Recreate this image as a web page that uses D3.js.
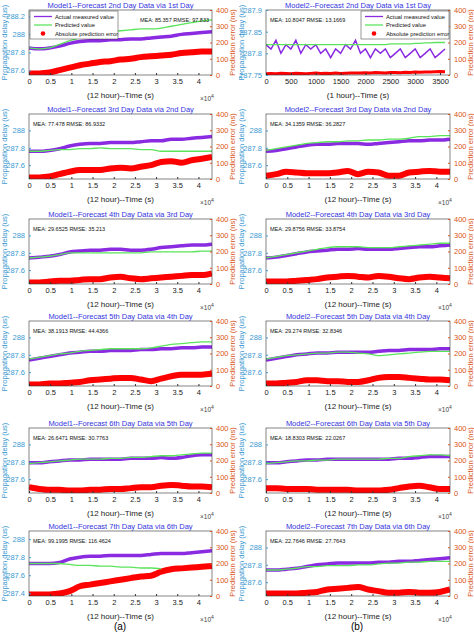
<!DOCTYPE html>
<html><head><meta charset="utf-8">
<script src="https://cdn.jsdelivr.net/npm/d3@7"></script>
<style>body{margin:0;background:#fff}text{font-family:Arial,"Liberation Sans",sans-serif}</style>
</head><body><svg id="c" width="474" height="635"></svg>
<script>
const t12 = [0,2400,4800,7200,9600,12000,14400,16800,19200,21600,24000,26400,28800,31200,33600,36000,38400,40800,43200];
const t1 = d3.range(0,3700,100);
const titles = [
 "Model1--Forecast 2nd Day Data via 1st Day","Model2--Forecast 2nd Day Data via 1st Day",
 "Model1--Forecast 3rd Day Data via 2nd Day","Model2--Forecast 3rd Day Data via 2nd Day",
 "Model1--Forecast 4th Day Data via 3rd Day","Model2--Forecast 4th Day Data via 3rd Day",
 "Model1--Forecast 5th Day Data via 4th Day","Model2--Forecast 5th Day Data via 4th Day",
 "Model1--Forecast 6th Day Data via 5th Day","Model2--Forecast 6th Day Data via 5th Day",
 "Model1--Forecast 7th Day Data via 6th Day","Model2--Forecast 7th Day Data via 6th Day"];
const metrics = ["MEA: 85.357  RMSE: 97.833","MEA: 10.8047  RMSE: 13.1669",
 "MEA: 77.478  RMSE: 86.9332","MEA: 34.1359  RMSE: 36.2827",
 "MEA: 29.6525  RMSE: 35.213","MEA: 29.8756  RMSE: 33.8754",
 "MEA: 38.1913  RMSE: 44.4366","MEA: 29.274  RMSE: 32.8346",
 "MEA: 26.6471  RMSE: 30.7763","MEA: 18.8303  RMSE: 22.0267",
 "MEA: 99.1995  RMSE: 116.4624","MEA: 22.7646  RMSE: 27.7643"];
const actual = [
 [287.85,287.84,287.85,287.87,287.9,287.92,287.93,287.93,287.94,287.94,287.95,287.95,287.96,287.97,287.98,288.0,288.01,288.02,288.03],
 [287.82,287.81,287.83,287.80,287.82,287.81,287.83,287.80,287.82,287.81,287.82,287.80,287.81,287.79,287.81,287.80,287.82,287.81,287.83,287.80,287.81,287.79,287.81,287.80,287.81,287.79,287.80,287.81,287.79,287.80,287.81,287.79,287.80,287.81,287.79,287.80,287.81],
 [287.76,287.76,287.77,287.79,287.82,287.84,287.85,287.85,287.86,287.86,287.86,287.87,287.88,287.88,287.90,287.90,287.91,287.92,287.93],
 [287.76,287.77,287.79,287.81,287.83,287.84,287.84,287.85,287.85,287.85,287.84,287.85,287.86,287.87,287.88,287.88,287.89,287.89,287.90],
 [287.74,287.75,287.76,287.78,287.81,287.82,287.83,287.83,287.84,287.84,287.83,287.83,287.84,287.86,287.87,287.88,287.89,287.89,287.90],
 [287.74,287.75,287.77,287.79,287.81,287.82,287.83,287.84,287.84,287.85,287.84,287.84,287.84,287.85,287.86,287.87,287.87,287.88,287.89],
 [287.74,287.76,287.78,287.80,287.82,287.83,287.84,287.84,287.85,287.85,287.85,287.86,287.86,287.87,287.87,287.88,287.88,287.89,287.89],
 [287.74,287.76,287.78,287.80,287.81,287.82,287.82,287.83,287.83,287.83,287.83,287.84,287.85,287.85,287.86,287.86,287.86,287.87,287.87],
 [287.79,287.79,287.80,287.81,287.82,287.82,287.83,287.83,287.83,287.83,287.84,287.84,287.84,287.85,287.84,287.85,287.87,287.88,287.88],
 [287.79,287.79,287.80,287.81,287.82,287.82,287.83,287.83,287.83,287.83,287.83,287.83,287.83,287.84,287.84,287.85,287.86,287.86,287.86],
 [287.73,287.73,287.73,287.74,287.78,287.80,287.81,287.81,287.82,287.82,287.82,287.82,287.83,287.84,287.84,287.84,287.85,287.86,287.87],
 [287.74,287.74,287.75,287.76,287.78,287.80,287.81,287.82,287.82,287.82,287.82,287.83,287.83,287.84,287.84,287.85,287.86,287.87,287.88]];
const predicted = [
 [287.85,287.84,287.85,287.89,287.93,287.96,287.99,288.01,288.03,288.04,288.05,288.06,288.06,288.07,288.09,288.11,288.13,288.15,288.16],
 [287.82,287.82,287.82,287.82,287.82,287.82,287.82,287.82,287.82,287.82,287.82,287.82,287.82,287.82,287.82,287.82,287.82,287.82,287.82,287.82,287.82,287.82,287.82,287.82,287.82,287.822,287.822,287.822,287.822,287.822,287.823,287.823,287.824,287.824,287.825,287.825,287.825],
 [287.76,287.76,287.77,287.78,287.78,287.79,287.79,287.80,287.79,287.79,287.79,287.78,287.78,287.76,287.76,287.76,287.76,287.76,287.76],
 [287.77,287.79,287.81,287.83,287.85,287.86,287.87,287.87,287.88,287.88,287.89,287.89,287.90,287.90,287.91,287.93,287.93,287.94,287.94],
 [287.74,287.75,287.76,287.78,287.80,287.80,287.80,287.80,287.80,287.80,287.80,287.80,287.81,287.81,287.81,287.81,287.81,287.82,287.82],
 [287.74,287.76,287.78,287.80,287.82,287.84,287.86,287.87,287.87,287.87,287.86,287.86,287.86,287.87,287.88,287.89,287.90,287.91,287.91],
 [287.75,287.77,287.79,287.81,287.82,287.84,287.85,287.86,287.87,287.87,287.87,287.87,287.88,287.90,287.92,287.93,287.94,287.95,287.95],
 [287.75,287.77,287.79,287.80,287.81,287.82,287.82,287.83,287.83,287.82,287.81,287.79,287.80,287.81,287.82,287.83,287.84,287.84,287.84],
 [287.78,287.79,287.80,287.81,287.82,287.83,287.83,287.83,287.84,287.84,287.85,287.85,287.86,287.87,287.87,287.88,287.89,287.90,287.90],
 [287.78,287.79,287.80,287.81,287.81,287.82,287.82,287.83,287.83,287.83,287.83,287.83,287.84,287.84,287.86,287.87,287.88,287.88,287.87],
 [287.73,287.73,287.73,287.73,287.72,287.71,287.71,287.70,287.70,287.69,287.69,287.68,287.68,287.67,null,null,null,null,null],
 [287.74,287.74,287.75,287.76,287.78,287.78,287.79,287.79,287.79,287.80,287.80,287.81,287.82,287.82,287.83,287.83,287.84,287.84,287.84]];
const errors = [
 [10,10,15,30,45,60,70,80,85,95,100,110,115,120,125,135,140,145,145],
 [8,9,8,10,9,8,10,9,8,10,12,10,11,9,12,10,11,12,13,12,14,13,15,14,13,15,16,14,17,16,18,17,19,18,20,21,20],
 [10,10,15,30,45,55,55,55,65,70,65,75,85,105,110,100,115,125,135],
 [20,30,45,40,35,35,35,40,50,30,45,40,20,20,40,45,50,45,45],
 [10,10,15,20,20,25,30,30,40,45,35,30,35,40,45,50,55,55,65],
 [15,15,15,20,25,30,40,45,50,45,40,50,45,35,30,40,45,40,35],
 [10,10,15,15,20,25,35,40,45,50,50,40,30,45,60,70,70,70,75],
 [15,15,20,25,35,35,30,30,25,25,35,50,55,55,50,45,40,40,35],
 [35,25,20,20,15,15,20,20,25,25,30,35,35,45,50,45,40,40,35],
 [30,30,25,25,25,20,20,20,20,15,15,15,20,30,40,45,35,25,25],
 [10,10,10,15,30,60,70,80,90,100,110,120,125,150,165,170,175,180,185],
 [15,15,15,15,20,25,40,45,50,55,40,30,20,20,25,20,20,25,40]];
const yDomains = [[287.55,288.27],[287.75,287.9],[287.44,288.19],[287.44,288.19],[287.44,288.19],[287.44,288.19],
 [287.44,288.19],[287.44,288.19],[287.44,288.19],[287.44,288.19],[287.37,288.09],[287.44,288.19]];
const yTicks = [[287.6,287.8,288,288.2],[287.75,287.8,287.85,287.9]];
const yTicksDefault = [287.6,287.8,288];
const yTicksLast = [287.4,287.6,287.8,288];
const errTicks = [0,100,200,300,400];
const xTicks12 = [0,5000,10000,15000,20000,25000,30000,35000,40000];
const xTicks1 = [0,500,1000,1500,2000,2500,3000,3500];
const legendLabels = ["Actual measured value","Predicted value","Absolute prediction error"];

const svg = d3.select("#c");
const tops = [10,114,219,321,428,531], H = 65;
const cols = [[29,212],[266,450]];
const cBlue="#3d9ad1", cOr="#d95319", cPur="#8a2be2", cGr="#5be35b", cRed="#ff0000", cTitle="#3434e0";

for (let i=0;i<12;i++){
  const r=Math.floor(i/2), c=i%2;
  const hourly = (i===1);
  const tt = hourly? t1 : t12;
  const x = d3.scaleLinear().domain(hourly?[0,3700]:[0,43200]).range(cols[c]);
  const y = d3.scaleLinear().domain(yDomains[i]).range([tops[r]+H,tops[r]]);
  const ye = d3.scaleLinear().domain([0,400]).range([tops[r]+H,tops[r]]);
  const g = svg.append("g");
  const clipId="cl"+i;
  g.append("clipPath").attr("id",clipId).append("rect").attr("x",cols[c][0]).attr("y",tops[r]).attr("width",cols[c][1]-cols[c][0]).attr("height",H);
  const pg=g.append("g").attr("clip-path",`url(#${clipId})`);
  const cv = hourly? d3.curveLinear : d3.curveMonotoneX;
  const le = d3.line().x((d,k)=>x(tt[k])).y(d=>ye(d)).curve(cv);
  const ly = d3.line().defined(d=>d!=null).x((d,k)=>x(tt[k])).y(d=>y(d)).curve(cv);
  pg.append("path").attr("d",le(errors[i])).attr("fill","none").attr("stroke",cRed).attr("stroke-width",hourly?3:6);
  pg.append("path").attr("d",ly(actual[i])).attr("fill","none").attr("stroke",cPur).attr("stroke-width",hourly?1.5:3.5);
  pg.append("path").attr("d",ly(predicted[i])).attr("fill","none").attr("stroke",cGr).attr("stroke-width",1.3);
  g.append("rect").attr("x",cols[c][0]).attr("y",tops[r]).attr("width",cols[c][1]-cols[c][0]).attr("height",H).attr("fill","none").attr("stroke","#333").attr("stroke-width",0.6);
  const xa = d3.axisBottom(x).tickValues(hourly?xTicks1:xTicks12).tickSizeInner(-2).tickSizeOuter(0).tickPadding(4)
    .tickFormat(d=>hourly? d : (d===0?"0":String(d/10000)));
  const ax=g.append("g").attr("transform",`translate(0,${tops[r]+H})`).call(xa);
  ax.select(".domain").remove(); ax.selectAll("text").attr("font-size",7.5).attr("fill","#222");
  ax.selectAll("line").attr("stroke","#333");
  const yt = i<2? yTicks[i] : (i===10? yTicksLast : yTicksDefault);
  const ya = d3.axisLeft(y).tickValues(yt).tickSizeInner(-2).tickSizeOuter(0).tickPadding(4).tickFormat(d=>String(+d.toFixed(2)));
  const ayl=g.append("g").attr("transform",`translate(${cols[c][0]},0)`).call(ya);
  ayl.select(".domain").remove(); ayl.selectAll("text").attr("font-size",7.5).attr("fill",cBlue); ayl.selectAll("line").attr("stroke",cBlue);
  const yr = d3.axisRight(ye).tickValues(errTicks).tickSizeInner(-2).tickSizeOuter(0).tickPadding(4);
  const ayr=g.append("g").attr("transform",`translate(${cols[c][1]},0)`).call(yr);
  ayr.select(".domain").remove(); ayr.selectAll("text").attr("font-size",7.5).attr("fill",cOr); ayr.selectAll("line").attr("stroke",cOr);
  const cx=(cols[c][0]+cols[c][1])/2;
  g.append("text").attr("x",cx).attr("y",tops[r]-2.5).attr("text-anchor","middle").attr("font-size",7.5).attr("fill",cTitle).text(titles[i]);
  g.append("text").attr("x",cx).attr("y",tops[r]+H+23).attr("text-anchor","middle").attr("font-size",8).attr("fill","#222").text(hourly?"(1 hour)--Time (s)":"(12 hour)--Time (s)");
  if(!hourly){
    const tx=g.append("text").attr("x",cols[c][1]-12).attr("y",tops[r]+H+26).attr("font-size",6.5).attr("fill","#444").text("×10");
    tx.append("tspan").attr("dy",-3).attr("font-size",5).text("4");
  }
  g.append("text").attr("transform",`translate(${cols[c][0]-22},${tops[r]+H/2}) rotate(-90)`).attr("text-anchor","middle").attr("font-size",7.5).attr("fill",cBlue).text("Propagation delay (us)");
  g.append("text").attr("transform",`translate(${cols[c][1]+23},${tops[r]+H/2}) rotate(-90)`).attr("text-anchor","middle").attr("font-size",7.5).attr("fill",cOr).text("Prediction error (ns)");
  if(i===0){
    g.append("text").attr("x",cols[c][1]-3).attr("y",tops[r]+12).attr("text-anchor","end").attr("font-size",5.5).attr("fill","#111").text(metrics[i]);
  } else {
    g.append("text").attr("x",cols[c][0]+4).attr("y",tops[r]+12).attr("font-size",5.5).attr("fill","#111").text(metrics[i]);
  }
  if(r===0){
    const lw=88, lh=28;
    const lx = c===0? cols[c][0]+1 : cols[c][1]-lw-1, ly0=tops[r]+1;
    const lg=g.append("g");
    lg.append("rect").attr("x",lx).attr("y",ly0).attr("width",lw).attr("height",lh).attr("fill","#fff").attr("stroke","#333").attr("stroke-width",0.5);
    const cs=[cPur,cGr,cRed];
    legendLabels.forEach((lab,k)=>{
      const yy=ly0+5.5+k*8.5;
      if(k<2) lg.append("line").attr("x1",lx+4).attr("x2",lx+22).attr("y1",yy).attr("y2",yy).attr("stroke",cs[k]).attr("stroke-width",1.3);
      else lg.append("circle").attr("cx",lx+13).attr("cy",yy).attr("r",2.3).attr("fill",cRed);
      lg.append("text").attr("x",lx+25).attr("y",yy+2.2).attr("font-size",5.8).attr("fill","#111").text(lab);
    });
  }
}
svg.append("text").attr("x",120).attr("y",630).attr("text-anchor","middle").attr("font-family","Times New Roman,Liberation Serif,serif").attr("font-size",10).text("(a)");
svg.append("text").attr("x",357).attr("y",630).attr("text-anchor","middle").attr("font-family","Times New Roman,Liberation Serif,serif").attr("font-size",10).text("(b)");
</script></body></html>
